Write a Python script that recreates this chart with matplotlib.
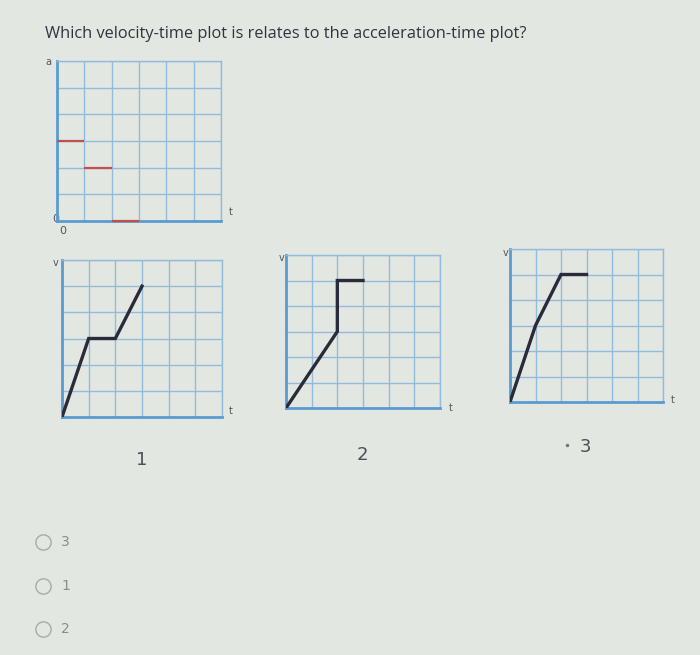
import matplotlib.pyplot as plt

# acceleration-time plot: (t start, t end, a) segments
acc_segments = [(0, 1, 3), (1, 2, 2), (2, 3, 0)]

# velocity-time plots (t, v) points
v1_t = [0, 1, 2, 3]
v1_v = [0, 3, 3, 5]
v2_t = [0, 2, 2, 3]
v2_v = [0, 3, 5, 5]
v3_t = [0, 1, 2, 3]
v3_v = [0, 3, 5, 5]

choices = ['3', '1', '2']
plot_labels = ['1', '2', '3']

BG = '#e3e7e1'
GRID = '#92bbdc'
AXIS = '#5b9bd0'
INK = '#2a2a3a'
RED = '#c0504d'

fig = plt.figure(figsize=(7, 6.55), dpi=100, facecolor=BG)

# overlay in pixel coords for the page text
page = fig.add_axes([0, 0, 1, 1], zorder=0)
page.set_xlim(0, 700)
page.set_ylim(655, 0)
page.axis('off')

page.text(45, 34, 'Which velocity-time plot is relates to the acceleration-time plot?',
          fontsize=11.8, color='#2f3440', family='Open Sans', va='center')


def grid_axes(rect):
    ax = fig.add_axes(rect, zorder=1)
    ax.set_xlim(0, 6)
    ax.set_ylim(0, 6)
    ax.set_xticks(range(7))
    ax.set_yticks(range(7))
    ax.tick_params(length=0, labelbottom=False, labelleft=False)
    ax.grid(True, color=GRID, linewidth=1.0)
    ax.set_facecolor('none')
    for s in ['top', 'right']:
        ax.spines[s].set_color(GRID)
        ax.spines[s].set_linewidth(1.0)
    for s in ['left', 'bottom']:
        ax.spines[s].set_color(AXIS)
        ax.spines[s].set_linewidth(2.0)
    return ax


# acceleration plot
ax_a = grid_axes([57/700, 1-221/655, 164/700, 160/655])
for t0, t1, a in acc_segments:
    ax_a.plot([t0, t1], [a, a], color=RED, linewidth=1.6, solid_capstyle='butt',
              clip_on=False, zorder=3)
page.text(45, 62, 'a', fontsize=7, color='#555555', va='center')
page.text(52, 219, '0', fontsize=8, color='#555555', va='center')
page.text(59, 231, '0', fontsize=8, color='#555555', va='center')
page.text(229, 212, 't', fontsize=7, color='#555555', va='center')

# velocity plots
rects = [
    [62/700, 1-417/655, 160/700, 157/655],
    [286/700, 1-408/655, 154/700, 153/655],
    [510/700, 1-402/655, 153/700, 153/655],
]
series = [(v1_t, v1_v), (v2_t, v2_v), (v3_t, v3_v)]
v_lbl = [(53, 263), (279, 258), (503, 253)]
t_lbl = [(229, 411), (449, 408), (671, 400)]
num_pos = [(142, 460), (362, 455), (585, 447)]

for rect, (tt, vv), vl, tl, npos, lab in zip(rects, series, v_lbl, t_lbl, num_pos, plot_labels):
    ax = grid_axes(rect)
    ax.plot(tt, vv, color=INK, linewidth=2.4, solid_joinstyle='miter', zorder=3)
    page.text(vl[0], vl[1], 'v', fontsize=7, color='#555555', va='center')
    page.text(tl[0], tl[1], 't', fontsize=7, color='#555555', va='center')
    page.text(npos[0], npos[1], lab, fontsize=13, color='#4a4f57', ha='center', va='center')

page.plot([567], [445], marker='o', markersize=1.5, color='#777777')

# answer choices
for i, c in enumerate(choices):
    y = 542 + i * 43.5
    page.plot([43], [y], marker='o', markersize=11, markerfacecolor='none',
              markeredgecolor='#a8aaa8', markeredgewidth=1.0)
    page.text(61, y, c, fontsize=10, color='#8a8d8a', va='center')

fig.savefig('out.png', dpi=100, facecolor=BG)
